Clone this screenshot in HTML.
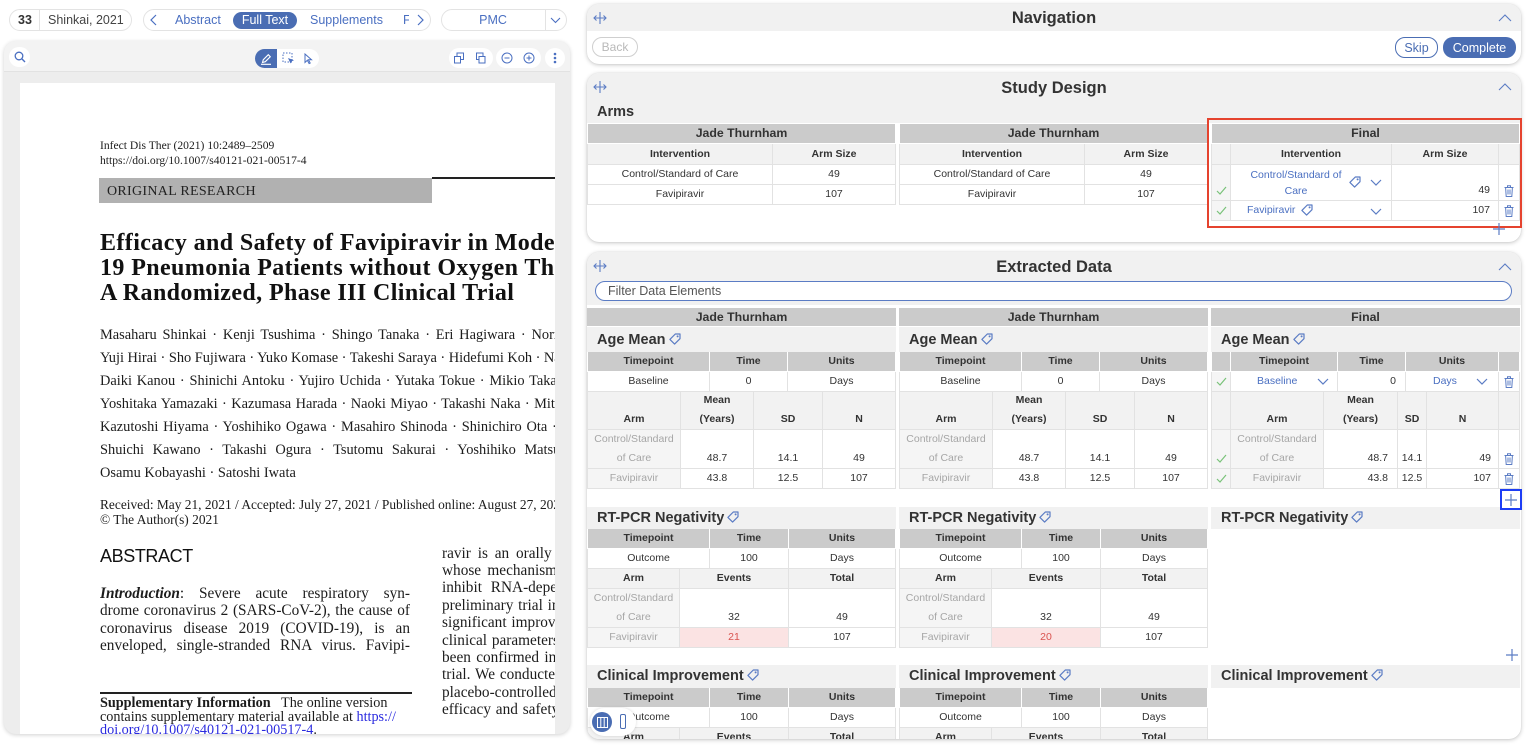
<!DOCTYPE html>
<html><head><meta charset="utf-8"><style>
*{margin:0;padding:0;box-sizing:border-box}
html,body{width:1536px;height:746px;overflow:hidden;background:#fff}
body{position:relative;font-family:"Liberation Sans",Arial,sans-serif;color:#333}
.a{position:absolute}
.pl{position:absolute;background:#fff;border:1px solid #e3e3e3;border-radius:12px}
.tx{position:absolute;font-size:12.5px;line-height:22px;white-space:nowrap}
.card{position:absolute;background:#fff;border-radius:12px;overflow:hidden;box-shadow:0 1px 4px rgba(0,0,0,.22),0 0 1px rgba(0,0,0,.12)}
.ttl{position:absolute;left:0;width:100%;text-align:center;font-weight:bold;font-size:16.5px;color:#333}
.tb{position:absolute;width:309px;font-size:10.5px;color:#333}
.rw{position:absolute;left:0;width:309px;display:flex}
.rw>div{position:relative;flex:none;height:100%;border-right:1px solid #e2e2e2;border-bottom:1px solid #e2e2e2;display:flex;align-items:center;justify-content:center;white-space:nowrap;overflow:hidden;line-height:19px;background:#fff}
.rw>div:first-child{border-left:1px solid #e2e2e2}
.g>div{background:#cbcbcb;font-weight:bold;border-color:#fff!important}
.s>div{background:#f2f2f2;font-weight:bold}
.b>div{align-items:flex-end}
.rw>div.ar{background:#f5f5f5;color:#a6a6a6;font-weight:normal}
.rw>div.ck{background:#f5f5f5}
.rw>div.rt{justify-content:flex-end;padding-right:8px}
.rw>div.pk{background:#fbe3e3;color:#d9534f}
.ic{display:flex;align-items:center;justify-content:center;height:19px}
.bl{color:#4a6fc1}
.band{position:absolute;width:309px;background:#f1f1f1;font-weight:bold;font-size:14.5px;color:#333;padding-left:10px;white-space:nowrap}
.band svg{vertical-align:-1px;margin-left:3px}
.hb{position:absolute;width:309px;height:18px;background:#cbcbcb;font-weight:bold;font-size:12.3px;text-align:center;line-height:18px;color:#333}
.sf{font-family:"Liberation Serif","Times New Roman",serif;color:#1c1c1c;position:absolute;white-space:nowrap}
.j{position:absolute;width:310px;height:17.6px;overflow:hidden;text-align:justify;text-align-last:justify;font-family:"Liberation Serif","Times New Roman",serif;font-size:15.3px;line-height:17.6px;color:#1c1c1c}
.k{position:absolute;white-space:nowrap;height:17.6px;font-family:"Liberation Serif","Times New Roman",serif;font-size:15.3px;line-height:17.6px;color:#1c1c1c;word-spacing:2.5px}
</style></head><body>

<!-- ===== TOP BAR LEFT ===== -->
<div class="pl" style="left:9px;top:9px;width:123px;height:22px"></div>
<div class="tx" style="left:18px;top:9px;font-weight:bold;color:#333">33</div>
<div class="a" style="left:39px;top:10px;width:1px;height:20px;background:#e3e3e3"></div>
<div class="tx" style="left:48px;top:9px;color:#444">Shinkai, 2021</div>

<div class="pl" style="left:143px;top:9px;width:288px;height:22px"></div>
<svg class="a" style="left:150px;top:14px" width="7" height="12" viewBox="0 0 7 12"><path d="M6 1L1 6l5 5" fill="none" stroke="#4a6fc1" stroke-width="1.2"/></svg>
<div class="tx bl" style="left:175px;top:9px">Abstract</div>
<div class="a" style="left:233px;top:12px;width:64px;height:17px;border-radius:9px;background:#4a6db3"></div>
<div class="tx" style="left:233px;top:9px;width:64px;text-align:center;color:#fff">Full Text</div>
<div class="tx bl" style="left:310px;top:9px">Supplements</div>
<div class="a" style="left:403px;top:9px;width:6px;height:22px;overflow:hidden"><div class="tx bl" style="left:0;top:0">Full</div></div>
<svg class="a" style="left:417px;top:14px" width="7" height="12" viewBox="0 0 7 12"><path d="M1 1l5 5-5 5" fill="none" stroke="#4a6fc1" stroke-width="1.2"/></svg>

<div class="pl" style="left:441px;top:9px;width:126px;height:22px"></div>
<div class="tx bl" style="left:441px;top:9px;width:104px;text-align:center">PMC</div>
<div class="a" style="left:545px;top:10px;width:1px;height:20px;background:#e3e3e3"></div>
<svg class="a" style="left:550px;top:17px" width="11" height="7" viewBox="0 0 11 7"><path d="M1 1l4.5 4.5L10 1" fill="none" stroke="#4a6fc1" stroke-width="1.1"/></svg>

<!-- ===== LEFT CARD ===== -->
<div class="a" style="left:4px;top:41px;width:566px;height:693px;background:#ededed;border-radius:12px;box-shadow:0 1px 4px rgba(0,0,0,.18);overflow:hidden">
  <div class="a" style="left:0;top:0;width:566px;height:31px;background:#f3f3f3;border-bottom:1px solid #e2e2e2"></div>
  <div class="a" style="left:5px;top:6px;width:21px;height:20px;border-radius:10px;background:#fff;display:flex;align-items:center;justify-content:center">
    <svg width="12" height="12" viewBox="0 0 12 12"><circle cx="5" cy="5" r="3.8" fill="none" stroke="#4a6fc1" stroke-width="1.3"/><path d="M7.8 7.8L11 11" stroke="#4a6fc1" stroke-width="1.4"/></svg></div>
  <div class="a" style="left:251px;top:8px;width:64px;height:19px;border-radius:10px;background:#fff"></div>
  <div class="a" style="left:251px;top:8px;width:22px;height:19px;border-radius:10px 0 0 10px;background:#4a6db3;display:flex;align-items:center;justify-content:center">
    <svg width="12" height="12" viewBox="0 0 12 12"><path d="M2.5 9.5l.8-2.8 5-5 2 2-5 5zM1 11.3h10" fill="none" stroke="#fff" stroke-width="1.1"/></svg></div>
  <svg class="a" style="left:278px;top:11px" width="13" height="13" viewBox="0 0 13 13"><rect x="1" y="1" width="9" height="9" fill="none" stroke="#4a6fc1" stroke-dasharray="1.5 1.5"/><path d="M6 6l6 2.2-2.3 1-1.2 2.3z" fill="#4a6fc1"/></svg>
  <svg class="a" style="left:299px;top:12px" width="10" height="12" viewBox="0 0 10 12"><path d="M2 1v8.5l2.3-2.2 1.8 3.3 1.1-.6-1.8-3.3H8.5z" fill="none" stroke="#4a6fc1"/></svg>
  <div class="a" style="left:445px;top:7px;width:44px;height:20px;border-radius:10px;background:#fff"></div>
  <svg class="a" style="left:449px;top:11px" width="12" height="12" viewBox="0 0 12 12"><rect x="4" y="1" width="6.5" height="6.5" fill="none" stroke="#4a6fc1"/><rect x="1.5" y="4.5" width="6" height="6.5" fill="#fff" stroke="#4a6fc1"/></svg>
  <svg class="a" style="left:471px;top:11px" width="12" height="12" viewBox="0 0 12 12"><rect x="1.5" y="1" width="6.5" height="6.5" fill="none" stroke="#4a6fc1"/><rect x="4" y="4.5" width="6" height="6.5" fill="#fff" stroke="#4a6fc1"/></svg>
  <div class="a" style="left:492px;top:7px;width:45px;height:20px;border-radius:10px;background:#fff"></div>
  <svg class="a" style="left:497px;top:11px" width="12" height="12" viewBox="0 0 12 12"><circle cx="6" cy="6" r="5" fill="none" stroke="#4a6fc1"/><path d="M3.5 6h5" stroke="#4a6fc1"/></svg>
  <svg class="a" style="left:519px;top:11px" width="12" height="12" viewBox="0 0 12 12"><circle cx="6" cy="6" r="5" fill="none" stroke="#4a6fc1"/><path d="M3.5 6h5M6 3.5v5" stroke="#4a6fc1"/></svg>
  <div class="a" style="left:541px;top:7px;width:20px;height:20px;border-radius:10px;background:#fff"></div>
  <svg class="a" style="left:549px;top:11px" width="4" height="12" viewBox="0 0 4 12"><circle cx="2" cy="2" r="1.3" fill="#4a6fc1"/><circle cx="2" cy="6" r="1.3" fill="#4a6fc1"/><circle cx="2" cy="10" r="1.3" fill="#4a6fc1"/></svg>

  <!-- PDF page -->
  <div class="a" style="left:16px;top:42px;width:535px;height:651px;background:#fff;overflow:hidden">
    <div class="sf" style="left:80px;top:56px;font-size:11.6px;line-height:14px">Infect Dis Ther (2021) 10:2489–2509</div>
    <div class="sf" style="left:80px;top:71px;font-size:11.6px;line-height:14px">https://doi.org/10.1007/s40121-021-00517-4</div>
    <div class="a" style="left:412px;top:94px;width:130px;height:1.5px;background:#222"></div>
    <div class="a" style="left:79px;top:95px;width:333px;height:25px;background:#b1b1b1"></div>
    <div class="sf" style="left:87px;top:96px;font-size:14px;line-height:25px;letter-spacing:0.3px;color:#222">ORIGINAL RESEARCH</div>
    <div class="sf" style="left:80px;top:148px;font-size:24px;line-height:25px;font-weight:bold;letter-spacing:0.4px;color:#111">Efficacy and Safety of Favipiravir in Moderate COVID-<br>19 Pneumonia Patients without Oxygen Therapy:<br>A Randomized, Phase III Clinical Trial</div>
    <div class="sf" style="left:80px;top:240.5px;font-size:14.4px;line-height:23px"><span style="word-spacing:2.2px">Masaharu Shinkai · Kenji Tsushima · Shingo Tanaka · Eri Hagiwara · Norihiro Harada ·</span><br><span style="word-spacing:-0.1px">Yuji Hirai · Sho Fujiwara · Yuko Komase · Takeshi Saraya · Hidefumi Koh · Naho Kagiyama ·</span><br><span style="word-spacing:1.2px">Daiki Kanou · Shinichi Antoku · Yujiro Uchida · Yutaka Tokue · Mikio Takamori ·</span><br><span style="word-spacing:0.8px">Yoshitaka Yamazaki · Kazumasa Harada · Naoki Miyao · Takashi Naka · Mitsuru Iida ·</span><br><span style="word-spacing:1.2px">Kazutoshi Hiyama · Yoshihiko Ogawa · Masahiro Shinoda · Shinichiro Ota · Takatoshi</span><br><span style="word-spacing:5px">Shuichi Kawano · Takashi Ogura · Tsutomu Sakurai · Yoshihiko Matsumoto ·</span><br>Osamu Kobayashi · Satoshi Iwata</div>
    <div class="sf" style="left:80px;top:413.5px;font-size:13.4px;line-height:15px">Received: May 21, 2021 / Accepted: July 27, 2021 / Published online: August 27, 2021<br>© The Author(s) 2021</div>
    <div class="a" style="left:80px;top:462px;font-size:18px;line-height:22px;letter-spacing:-0.4px;color:#111;white-space:nowrap">ABSTRACT</div>

    <div class="j" style="left:80px;top:501.5px"><b><i>Introduction</i></b>: Severe acute respiratory syn-</div>
    <div class="j" style="left:80px;top:519.1px">drome coronavirus 2 (SARS-CoV-2), the cause of</div>
    <div class="j" style="left:80px;top:536.7px">coronavirus disease 2019 (COVID-19), is an</div>
    <div class="j" style="left:80px;top:554.3px">enveloped, single-stranded RNA virus. Favipi-</div>

    <div class="k" style="left:422px;top:461.5px;word-spacing:3px">ravir is an orally available antiviral drug</div>
    <div class="k" style="left:422px;top:478.9px">whose mechanism of action is to selectively</div>
    <div class="k" style="left:422px;top:496.3px;word-spacing:5px">inhibit RNA-dependent RNA polymerase. A</div>
    <div class="k" style="left:422px;top:513.7px;word-spacing:1px">preliminary trial in China has suggested a</div>
    <div class="k" style="left:422px;top:531.1px;word-spacing:1px">significant improvement in radiological and</div>
    <div class="k" style="left:422px;top:548.5px;word-spacing:1px">clinical parameters, although this has not yet</div>
    <div class="k" style="left:422px;top:565.9px;word-spacing:1.5px">been confirmed in a randomized controlled</div>
    <div class="k" style="left:422px;top:583.3px;word-spacing:1px">trial. We conducted a multicenter, single-</div>
    <div class="k" style="left:422px;top:600.7px;word-spacing:1px">placebo-controlled, phase III trial to assess</div>
    <div class="k" style="left:422px;top:618.1px;word-spacing:1px">efficacy and safety of favipiravir in patients</div>

    <div class="a" style="left:80px;top:609px;width:312px;height:2px;background:#222"></div>
    <div class="sf" style="left:80px;top:614px;font-size:14.2px;line-height:13.5px"><b>Supplementary Information</b>&nbsp;&nbsp; The online version<br>contains supplementary material available at <span style="color:#2a2adf">https://</span><br><span style="color:#2a2adf">doi.org/10.1007/s40121-021-00517-4</span>.</div>
  </div>
</div>

<!-- ===== NAVIGATION CARD ===== -->
<div class="card" style="left:587px;top:4px;width:934px;height:60px">
  <div class="a" style="left:0;top:0;width:934px;height:27px;background:#f1f1f1"></div>
  <div class="ttl" style="top:1px;line-height:27px">Navigation</div>
  <svg class="a" style="left:6px;top:7px" width="14" height="14" viewBox="0 0 14 14"><path d="M1 7h12M3.5 4.5L1 7l2.5 2.5M10.5 4.5L13 7l-2.5 2.5M7 1v12" fill="none" stroke="#5b7cc4" stroke-width="1.1"/></svg>
  <svg class="a" style="left:911px;top:10px" width="14" height="8" viewBox="0 0 14 8"><path d="M1 7l6-6 6 6" fill="none" stroke="#5b7cc4" stroke-width="1.1"/></svg>
  <div class="a" style="left:5px;top:33px;width:46px;height:20px;border:1px solid #cfcfcf;border-radius:10px;color:#b9b9b9;font-size:12px;line-height:18px;text-align:center">Back</div>
  <div class="a" style="left:808px;top:33px;width:43px;height:21px;border:1px solid #4a6db3;border-radius:10px;color:#4a6db3;font-size:12.5px;line-height:20px;text-align:center">Skip</div>
  <div class="a" style="left:856px;top:33px;width:73px;height:21px;background:#4a6db3;border-radius:10px;color:#fff;font-size:12.5px;line-height:22px;text-align:center">Complete</div>
</div>

<!-- ===== STUDY DESIGN CARD ===== -->
<div class="card" style="left:587px;top:73px;width:934px;height:169px">
  <div class="a" style="left:0;top:0;width:934px;height:50px;background:#f1f1f1"></div>
  <div class="ttl" style="top:1px;line-height:28px">Study Design</div>
  <svg class="a" style="left:6px;top:7px" width="14" height="14" viewBox="0 0 14 14"><path d="M1 7h12M3.5 4.5L1 7l2.5 2.5M10.5 4.5L13 7l-2.5 2.5M7 1v12" fill="none" stroke="#5b7cc4" stroke-width="1.1"/></svg>
  <svg class="a" style="left:911px;top:10px" width="14" height="8" viewBox="0 0 14 8"><path d="M1 7l6-6 6 6" fill="none" stroke="#5b7cc4" stroke-width="1.1"/></svg>
  <div class="a" style="left:10px;top:29px;font-size:14.5px;line-height:20px;font-weight:bold">Arms</div>

  <div class="tb" style="left:0;top:51px">
    <div class="rw g" style="top:0;height:20px;font-size:12.3px"><div style="width:309px">Jade Thurnham</div></div>
    <div class="rw s" style="top:20px;height:21px"><div style="width:186px">Intervention</div><div style="width:123px">Arm Size</div></div>
    <div class="rw" style="top:41px;height:20px"><div style="width:186px">Control/Standard of Care</div><div style="width:123px">49</div></div>
    <div class="rw" style="top:61px;height:20px"><div style="width:186px">Favipiravir</div><div style="width:123px">107</div></div>
  </div>
  <div class="tb" style="left:312px;top:51px">
    <div class="rw g" style="top:0;height:20px;font-size:12.3px"><div style="width:309px">Jade Thurnham</div></div>
    <div class="rw s" style="top:20px;height:21px"><div style="width:186px">Intervention</div><div style="width:123px">Arm Size</div></div>
    <div class="rw" style="top:41px;height:20px"><div style="width:186px">Control/Standard of Care</div><div style="width:123px">49</div></div>
    <div class="rw" style="top:61px;height:20px"><div style="width:186px">Favipiravir</div><div style="width:123px">107</div></div>
  </div>
  <div class="tb" style="left:624px;top:51px">
    <div class="rw g" style="top:0;height:20px;font-size:12.3px"><div style="width:309px">Final</div></div>
    <div class="rw s" style="top:20px;height:21px"><div style="width:20px"></div><div style="width:161px">Intervention</div><div style="width:107px">Arm Size</div><div style="width:21px"></div></div>
    <div class="rw b" style="top:41px;height:36px">
      <div class="ck" style="width:20px"><span class="ic"><svg width="11" height="9" viewBox="0 0 11 9"><path d="M1 5l3 3 6-7" fill="none" stroke="#79c279" stroke-width="1.2"/></svg></span></div>
      <div style="width:161px"><span class="a bl" style="left:5px;top:2px;width:120px;text-align:center;line-height:16px;white-space:normal">Control/Standard of<br>Care</span>
        <svg class="a" style="left:118px;top:11px" width="12" height="12" viewBox="0 0 12 12"><path d="M6.3 1H11v4.7L5.6 11.1 0.9 6.4z" fill="none" stroke="#5b7cc4" stroke-width="1.2" stroke-linejoin="round"/><circle cx="8.6" cy="3.4" r="1" fill="#5b7cc4"/></svg>
        <svg class="a" style="left:139px;top:14px" width="12" height="7" viewBox="0 0 12 7"><path d="M1 1l5 5 5-5" fill="none" stroke="#5b7cc4" stroke-width="1.2"/></svg></div>
      <div class="rt" style="width:107px">49</div>
      <div style="width:21px"><span class="ic"><svg width="10" height="12" viewBox="0 0 10 12"><path d="M.5 2.5h9M3.5 2.5V.8h3v1.7M1.6 2.5l.6 9h5.6l.6-9M4 4.5v5M6 4.5v5" fill="none" stroke="#5b7cc4" stroke-width="1"/></svg></span></div>
    </div>
    <div class="rw" style="top:77px;height:20px">
      <div class="ck" style="width:20px"><span class="ic"><svg width="11" height="9" viewBox="0 0 11 9"><path d="M1 5l3 3 6-7" fill="none" stroke="#79c279" stroke-width="1.2"/></svg></span></div>
      <div style="width:161px"><span class="a bl" style="left:16px;top:0">Favipiravir</span>
        <svg class="a" style="left:70px;top:3px" width="12" height="12" viewBox="0 0 12 12"><path d="M6.3 1H11v4.7L5.6 11.1 0.9 6.4z" fill="none" stroke="#5b7cc4" stroke-width="1.2" stroke-linejoin="round"/><circle cx="8.6" cy="3.4" r="1" fill="#5b7cc4"/></svg>
        <svg class="a" style="left:139px;top:7px" width="12" height="7" viewBox="0 0 12 7"><path d="M1 1l5 5 5-5" fill="none" stroke="#5b7cc4" stroke-width="1.2"/></svg></div>
      <div class="rt" style="width:107px">107</div>
      <div style="width:21px"><span class="ic"><svg width="10" height="12" viewBox="0 0 10 12"><path d="M.5 2.5h9M3.5 2.5V.8h3v1.7M1.6 2.5l.6 9h5.6l.6-9M4 4.5v5M6 4.5v5" fill="none" stroke="#5b7cc4" stroke-width="1"/></svg></span></div>
    </div>
  </div>
</div>

<!-- red box + plus -->
<div class="a" style="left:1207px;top:118px;width:315px;height:110px;border:2px solid #e5432e"></div>
<svg class="a" style="left:1493px;top:223px" width="12" height="12" viewBox="0 0 12 12"><path d="M6 0v12M0 6h12" stroke="#5b7cc4" stroke-width="1.2"/></svg>

<!-- ===== EXTRACTED DATA CARD ===== -->
<div class="card" style="left:587px;top:252px;width:934px;height:487px">
  <div class="a" style="left:0;top:0;width:934px;height:53px;background:#f1f1f1"></div>
  <div class="ttl" style="top:2px;line-height:26px">Extracted Data</div>
  <svg class="a" style="left:6px;top:7px" width="14" height="14" viewBox="0 0 14 14"><path d="M1 7h12M3.5 4.5L1 7l2.5 2.5M10.5 4.5L13 7l-2.5 2.5M7 1v12" fill="none" stroke="#5b7cc4" stroke-width="1.1"/></svg>
  <svg class="a" style="left:911px;top:11px" width="14" height="8" viewBox="0 0 14 8"><path d="M1 7l6-6 6 6" fill="none" stroke="#5b7cc4" stroke-width="1.1"/></svg>
  <div class="a" style="left:8px;top:29px;width:917px;height:20px;border:1px solid #5b7cc4;border-radius:10px;background:#fff;font-size:12.5px;line-height:18px;color:#555;padding-left:12px">Filter Data Elements</div>

  <div class="hb" style="left:0;top:56px">Jade Thurnham</div>
  <div class="hb" style="left:312px;top:56px">Jade Thurnham</div>
  <div class="hb" style="left:624px;top:56px">Final</div>

  <!-- Age Mean -->
  <div class="band" style="left:0;top:75px;height:25px;line-height:26px">Age Mean<svg width="12" height="12" viewBox="0 0 12 12"><path d="M6.3 1H11v4.7L5.6 11.1 0.9 6.4z" fill="none" stroke="#5b7cc4" stroke-width="1.2" stroke-linejoin="round"/><circle cx="8.6" cy="3.4" r="1" fill="#5b7cc4"/></svg></div>
  <div class="band" style="left:312px;top:75px;height:25px;line-height:26px">Age Mean<svg width="12" height="12" viewBox="0 0 12 12"><path d="M6.3 1H11v4.7L5.6 11.1 0.9 6.4z" fill="none" stroke="#5b7cc4" stroke-width="1.2" stroke-linejoin="round"/><circle cx="8.6" cy="3.4" r="1" fill="#5b7cc4"/></svg></div>
  <div class="band" style="left:624px;top:75px;height:25px;line-height:26px">Age Mean<svg width="12" height="12" viewBox="0 0 12 12"><path d="M6.3 1H11v4.7L5.6 11.1 0.9 6.4z" fill="none" stroke="#5b7cc4" stroke-width="1.2" stroke-linejoin="round"/><circle cx="8.6" cy="3.4" r="1" fill="#5b7cc4"/></svg></div>

  <div class="tb" style="left:0;top:100px">
    <div class="rw g" style="top:0;height:20px"><div style="width:123px">Timepoint</div><div style="width:78px">Time</div><div style="width:108px">Units</div></div>
    <div class="rw" style="top:20px;height:20px"><div style="width:123px">Baseline</div><div style="width:78px">0</div><div style="width:108px">Days</div></div>
    <div class="rw s b" style="top:40px;height:38px"><div style="width:94px">Arm</div><div style="width:73px"><span style="display:block;text-align:center">Mean<br>(Years)</span></div><div style="width:69px">SD</div><div style="width:73px">N</div></div>
    <div class="rw b" style="top:78px;height:39px"><div class="ar" style="width:94px"><span style="display:block;text-align:center">Control/Standard<br>of Care</span></div><div style="width:73px">48.7</div><div style="width:69px">14.1</div><div style="width:73px">49</div></div>
    <div class="rw" style="top:117px;height:20px"><div class="ar" style="width:94px">Favipiravir</div><div style="width:73px">43.8</div><div style="width:69px">12.5</div><div style="width:73px">107</div></div>
  </div>
  <div class="tb" style="left:312px;top:100px">
    <div class="rw g" style="top:0;height:20px"><div style="width:123px">Timepoint</div><div style="width:78px">Time</div><div style="width:108px">Units</div></div>
    <div class="rw" style="top:20px;height:20px"><div style="width:123px">Baseline</div><div style="width:78px">0</div><div style="width:108px">Days</div></div>
    <div class="rw s b" style="top:40px;height:38px"><div style="width:94px">Arm</div><div style="width:73px"><span style="display:block;text-align:center">Mean<br>(Years)</span></div><div style="width:69px">SD</div><div style="width:73px">N</div></div>
    <div class="rw b" style="top:78px;height:39px"><div class="ar" style="width:94px"><span style="display:block;text-align:center">Control/Standard<br>of Care</span></div><div style="width:73px">48.7</div><div style="width:69px">14.1</div><div style="width:73px">49</div></div>
    <div class="rw" style="top:117px;height:20px"><div class="ar" style="width:94px">Favipiravir</div><div style="width:73px">43.8</div><div style="width:69px">12.5</div><div style="width:73px">107</div></div>
  </div>
  <div class="tb" style="left:624px;top:100px">
    <div class="rw g" style="top:0;height:20px"><div style="width:20px"></div><div style="width:107px">Timepoint</div><div style="width:68px">Time</div><div style="width:93px">Units</div><div style="width:21px"></div></div>
    <div class="rw" style="top:20px;height:20px">
      <div class="ck" style="width:20px"><span class="ic"><svg width="11" height="9" viewBox="0 0 11 9"><path d="M1 5l3 3 6-7" fill="none" stroke="#79c279" stroke-width="1.2"/></svg></span></div>
      <div style="width:107px"><span class="a bl" style="left:26px;top:0">Baseline</span><svg class="a" style="left:86px;top:6px" width="12" height="7" viewBox="0 0 12 7"><path d="M1 1l5 5 5-5" fill="none" stroke="#5b7cc4" stroke-width="1.2"/></svg></div>
      <div class="rt" style="width:68px;padding-right:9px">0</div>
      <div style="width:93px"><span class="a bl" style="left:27px;top:0">Days</span><svg class="a" style="left:70px;top:6px" width="12" height="7" viewBox="0 0 12 7"><path d="M1 1l5 5 5-5" fill="none" stroke="#5b7cc4" stroke-width="1.2"/></svg></div>
      <div style="width:21px"><span class="ic"><svg width="10" height="12" viewBox="0 0 10 12"><path d="M.5 2.5h9M3.5 2.5V.8h3v1.7M1.6 2.5l.6 9h5.6l.6-9M4 4.5v5M6 4.5v5" fill="none" stroke="#5b7cc4" stroke-width="1"/></svg></span></div>
    </div>
    <div class="rw s b" style="top:40px;height:38px"><div style="width:20px"></div><div style="width:93px">Arm</div><div style="width:74px"><span style="display:block;text-align:center">Mean<br>(Years)</span></div><div style="width:29px">SD</div><div style="width:72px">N</div><div style="width:21px"></div></div>
    <div class="rw b" style="top:78px;height:39px">
      <div class="ck" style="width:20px"><span class="ic"><svg width="11" height="9" viewBox="0 0 11 9"><path d="M1 5l3 3 6-7" fill="none" stroke="#79c279" stroke-width="1.2"/></svg></span></div>
      <div class="ar" style="width:93px"><span style="display:block;text-align:center">Control/Standard<br>of Care</span></div>
      <div class="rt" style="width:74px;padding-right:9px">48.7</div>
      <div style="width:29px">14.1</div>
      <div class="rt" style="width:72px;padding-right:7px">49</div>
      <div style="width:21px"><span class="ic"><svg width="10" height="12" viewBox="0 0 10 12"><path d="M.5 2.5h9M3.5 2.5V.8h3v1.7M1.6 2.5l.6 9h5.6l.6-9M4 4.5v5M6 4.5v5" fill="none" stroke="#5b7cc4" stroke-width="1"/></svg></span></div>
    </div>
    <div class="rw" style="top:117px;height:20px">
      <div class="ck" style="width:20px"><span class="ic"><svg width="11" height="9" viewBox="0 0 11 9"><path d="M1 5l3 3 6-7" fill="none" stroke="#79c279" stroke-width="1.2"/></svg></span></div>
      <div class="ar" style="width:93px">Favipiravir</div>
      <div class="rt" style="width:74px;padding-right:9px">43.8</div>
      <div style="width:29px">12.5</div>
      <div class="rt" style="width:72px;padding-right:7px">107</div>
      <div style="width:21px"><span class="ic"><svg width="10" height="12" viewBox="0 0 10 12"><path d="M.5 2.5h9M3.5 2.5V.8h3v1.7M1.6 2.5l.6 9h5.6l.6-9M4 4.5v5M6 4.5v5" fill="none" stroke="#5b7cc4" stroke-width="1"/></svg></span></div>
    </div>
  </div>

  <!-- RT-PCR -->
  <div class="band" style="left:0;top:255px;height:22px;line-height:22px">RT-PCR Negativity<svg width="12" height="12" viewBox="0 0 12 12"><path d="M6.3 1H11v4.7L5.6 11.1 0.9 6.4z" fill="none" stroke="#5b7cc4" stroke-width="1.2" stroke-linejoin="round"/><circle cx="8.6" cy="3.4" r="1" fill="#5b7cc4"/></svg></div>
  <div class="band" style="left:312px;top:255px;height:22px;line-height:22px">RT-PCR Negativity<svg width="12" height="12" viewBox="0 0 12 12"><path d="M6.3 1H11v4.7L5.6 11.1 0.9 6.4z" fill="none" stroke="#5b7cc4" stroke-width="1.2" stroke-linejoin="round"/><circle cx="8.6" cy="3.4" r="1" fill="#5b7cc4"/></svg></div>
  <div class="band" style="left:624px;top:255px;height:22px;line-height:22px">RT-PCR Negativity<svg width="12" height="12" viewBox="0 0 12 12"><path d="M6.3 1H11v4.7L5.6 11.1 0.9 6.4z" fill="none" stroke="#5b7cc4" stroke-width="1.2" stroke-linejoin="round"/><circle cx="8.6" cy="3.4" r="1" fill="#5b7cc4"/></svg></div>

  <div class="tb" style="left:0;top:277px">
    <div class="rw g" style="top:0;height:20px"><div style="width:123px">Timepoint</div><div style="width:79px">Time</div><div style="width:107px">Units</div></div>
    <div class="rw" style="top:20px;height:20px"><div style="width:123px">Outcome</div><div style="width:79px">100</div><div style="width:107px">Days</div></div>
    <div class="rw s" style="top:40px;height:20px"><div style="width:93px">Arm</div><div style="width:109px">Events</div><div style="width:107px">Total</div></div>
    <div class="rw b" style="top:60px;height:39px"><div class="ar" style="width:93px"><span style="display:block;text-align:center">Control/Standard<br>of Care</span></div><div style="width:109px">32</div><div style="width:107px">49</div></div>
    <div class="rw" style="top:99px;height:20px"><div class="ar" style="width:93px">Favipiravir</div><div class="pk" style="width:109px">21</div><div style="width:107px">107</div></div>
  </div>
  <div class="tb" style="left:312px;top:277px">
    <div class="rw g" style="top:0;height:20px"><div style="width:123px">Timepoint</div><div style="width:79px">Time</div><div style="width:107px">Units</div></div>
    <div class="rw" style="top:20px;height:20px"><div style="width:123px">Outcome</div><div style="width:79px">100</div><div style="width:107px">Days</div></div>
    <div class="rw s" style="top:40px;height:20px"><div style="width:93px">Arm</div><div style="width:109px">Events</div><div style="width:107px">Total</div></div>
    <div class="rw b" style="top:60px;height:39px"><div class="ar" style="width:93px"><span style="display:block;text-align:center">Control/Standard<br>of Care</span></div><div style="width:109px">32</div><div style="width:107px">49</div></div>
    <div class="rw" style="top:99px;height:20px"><div class="ar" style="width:93px">Favipiravir</div><div class="pk" style="width:109px">20</div><div style="width:107px">107</div></div>
  </div>

  <svg class="a" style="left:919px;top:397px" width="12" height="12" viewBox="0 0 12 12"><path d="M6 0v12M0 6h12" stroke="#5b7cc4" stroke-width="1.2"/></svg>

  <!-- Clinical Improvement -->
  <div class="band" style="left:0;top:413px;height:23px;line-height:23px">Clinical Improvement<svg width="12" height="12" viewBox="0 0 12 12"><path d="M6.3 1H11v4.7L5.6 11.1 0.9 6.4z" fill="none" stroke="#5b7cc4" stroke-width="1.2" stroke-linejoin="round"/><circle cx="8.6" cy="3.4" r="1" fill="#5b7cc4"/></svg></div>
  <div class="band" style="left:312px;top:413px;height:23px;line-height:23px">Clinical Improvement<svg width="12" height="12" viewBox="0 0 12 12"><path d="M6.3 1H11v4.7L5.6 11.1 0.9 6.4z" fill="none" stroke="#5b7cc4" stroke-width="1.2" stroke-linejoin="round"/><circle cx="8.6" cy="3.4" r="1" fill="#5b7cc4"/></svg></div>
  <div class="band" style="left:624px;top:413px;height:23px;line-height:23px">Clinical Improvement<svg width="12" height="12" viewBox="0 0 12 12"><path d="M6.3 1H11v4.7L5.6 11.1 0.9 6.4z" fill="none" stroke="#5b7cc4" stroke-width="1.2" stroke-linejoin="round"/><circle cx="8.6" cy="3.4" r="1" fill="#5b7cc4"/></svg></div>

  <div class="tb" style="left:0;top:436px">
    <div class="rw g" style="top:0;height:20px"><div style="width:123px">Timepoint</div><div style="width:79px">Time</div><div style="width:107px">Units</div></div>
    <div class="rw" style="top:20px;height:20px"><div style="width:123px">Outcome</div><div style="width:79px">100</div><div style="width:107px">Days</div></div>
    <div class="rw s" style="top:40px;height:20px"><div style="width:93px">Arm</div><div style="width:109px">Events</div><div style="width:107px">Total</div></div>
  </div>
  <div class="tb" style="left:312px;top:436px">
    <div class="rw g" style="top:0;height:20px"><div style="width:123px">Timepoint</div><div style="width:79px">Time</div><div style="width:107px">Units</div></div>
    <div class="rw" style="top:20px;height:20px"><div style="width:123px">Outcome</div><div style="width:79px">100</div><div style="width:107px">Days</div></div>
    <div class="rw s" style="top:40px;height:20px"><div style="width:93px">Arm</div><div style="width:109px">Events</div><div style="width:107px">Total</div></div>
  </div>
</div>

<!-- blue focus box plus -->
<div class="a" style="left:1500px;top:489px;width:22px;height:21px;border:2px solid #1d3df5;display:flex;align-items:center;justify-content:center;background:#fff"><svg width="12" height="12" viewBox="0 0 12 12"><path d="M6 0v12M0 6h12" stroke="#5b7cc4" stroke-width="1.2"/></svg></div>

<!-- floating bottom-left pill -->
<div class="a" style="left:590px;top:708px;width:46px;height:28px;border-radius:14px;background:#fff;box-shadow:0 0 3px rgba(0,0,0,.15)"></div>
<div class="a" style="left:592px;top:712px;width:20px;height:20px;border-radius:10px;background:#4a6db3;display:flex;align-items:center;justify-content:center">
  <svg width="11" height="11" viewBox="0 0 11 11"><rect x=".5" y=".5" width="10" height="10" fill="none" stroke="#fff"/><path d="M3.8 1v9M7.2 1v9" stroke="#fff"/></svg></div>
<div class="a" style="left:620px;top:714px;width:6px;height:15px;border:1.5px solid #4a6db3;border-radius:2px"></div>

</body></html>
